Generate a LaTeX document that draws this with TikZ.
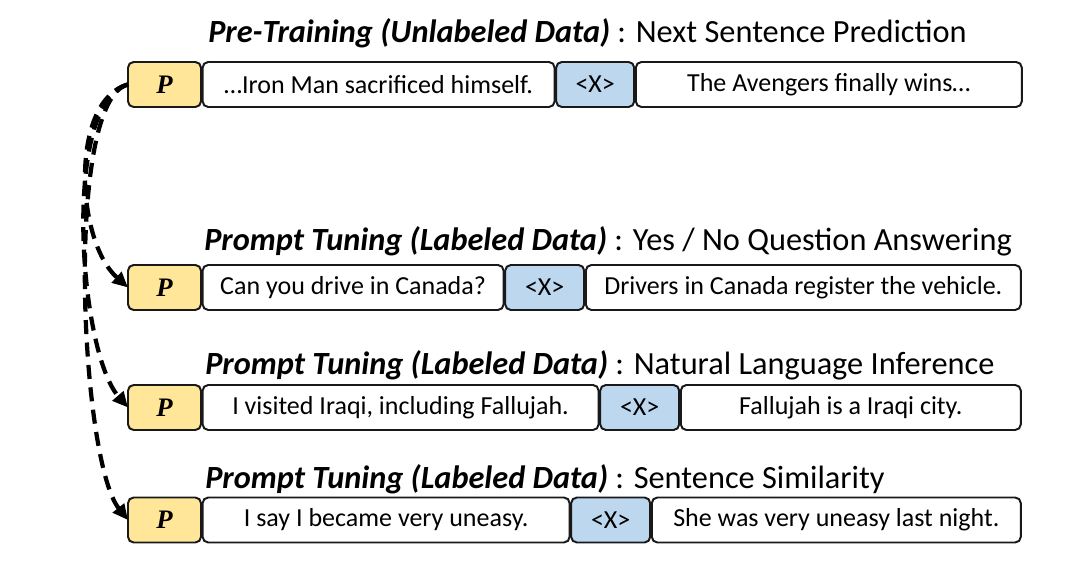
\documentclass[tikz,border=0pt]{standalone}
\usepackage{fontspec}
\setmainfont{Carlito}
\newfontfamily\pfont{Liberation Serif}
\usetikzlibrary{positioning,arrows.meta}
\definecolor{pyellow}{RGB}{255,230,153}
\definecolor{xblue}{RGB}{189,215,238}
\tikzset{
  seg/.style={draw=black!90, line width=1.4pt, rounded corners=4pt, minimum height=1.125cm,
    inner sep=0pt, outer sep=0pt, font=\fontsize{18.5}{22}\selectfont},
  pbox/.style={seg, fill=pyellow, minimum width=1.825cm, font=\pfont\bfseries\itshape\fontsize{19}{22}\selectfont},
  xbox/.style={seg, fill=xblue, minimum width=#1},
  tbox/.style={seg, fill=white, minimum width=#1},
  task/.style={anchor=base west, inner sep=0pt, font=\fontsize{23}{27}\selectfont},
  flow/.style={line width=3pt, dash pattern=on 10pt off 6pt, -{Triangle[length=11pt,width=10pt]}}
}
\begin{document}
\begin{tikzpicture}[node distance=0.04cm]
\useasboundingbox (0,0) rectangle (27,14.35);
% pre-training
\node[task] (t1) at (5.2,13.275) {\textbf{\textit{Pre-Training (Unlabeled Data)}} : Next Sentence Prediction};
\node[pbox, anchor=west] (p1) at (3.2,12.2375) {P};
\node[tbox=8.8cm, right=of p1] (a1) {…Iron Man sacrificed himself.};
\node[xbox=1.95cm, right=of a1] (x1) {<X>};
\node[tbox=9.65cm, right=of x1] (b1) {The Avengers finally wins…};
% yes / no qa
\node[task] (t2) at (5.1,8.075) {\textbf{\textit{Prompt Tuning (Labeled Data)}} : Yes / No Question Answering};
\node[pbox, anchor=west] (p2) at (3.2,7.1625) {P};
\node[tbox=7.525cm, right=of p2] (a2) {Can you drive in Canada?};
\node[xbox=1.975cm, right=of a2] (x2) {<X>};
\node[tbox=10.875cm, right=of x2] (b2) {Drivers in Canada register the vehicle.};
% nli
\node[task] (t3) at (5.125,4.975) {\textbf{\textit{Prompt Tuning (Labeled Data)}} : Natural Language Inference};
\node[pbox, anchor=west] (p3) at (3.2,4.1625) {P};
\node[tbox=9.9cm, right=of p3] (a3) {I visited Iraqi, including Fallujah.};
\node[xbox=1.975cm, right=of a3] (x3) {<X>};
\node[tbox=8.5cm, right=of x3] (b3) {Fallujah is a Iraqi city.};
% similarity
\node[task] (t4) at (5.125,2.15) {\textbf{\textit{Prompt Tuning (Labeled Data)}} : Sentence Similarity};
\node[pbox, anchor=west] (p4) at (3.2,1.35) {P};
\node[tbox=9.175cm, right=of p4] (a4) {I say I became very uneasy.};
\node[xbox=1.975cm, right=of a4] (x4) {<X>};
\node[tbox=9.225cm, right=of x4] (b4) {She was very uneasy last night.};
% shared prompt
\draw[flow] (p1.west) .. controls (1.75,11.85) and (1.875,8.35) .. (p2.west);
\draw[flow] (p1.west) .. controls (1.55,11.85) and (1.95,5.6) .. (p3.west);
\draw[flow] (p1.west) .. controls (1.6,11.85) and (2.0,2.85) .. (p4.west);
\end{tikzpicture}
\end{document}
